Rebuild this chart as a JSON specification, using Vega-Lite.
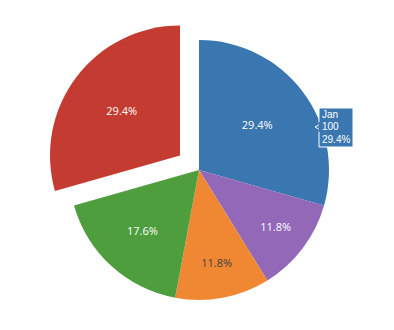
{
  "$schema": "https://vega.github.io/schema/vega-lite/v6.json",
  "width": 394,
  "height": 330,
  "autosize": {"type": "fit", "contains": "padding"},
  "padding": {"left": 4, "top": 10, "right": 0, "bottom": 0},
  "background": "white",
  "view": {"stroke": null},
  "data": {
    "values": [
      {"month": "Jan", "value": 100, "idx": 1},
      {"month": "May", "value": 40, "idx": 2},
      {"month": "Feb", "value": 40, "idx": 3},
      {"month": "Mar", "value": 60, "idx": 4},
      {"month": "Apr", "value": 100, "idx": 5}
    ]
  },
  "transform": [
    {"joinaggregate": [{"op": "sum", "field": "value", "as": "total"}]},
    {"calculate": "datum.value / datum.total", "as": "pct"}
  ],
  "layer": [
    {
      "mark": {"type": "arc", "outerRadius": 130},
      "encoding": {
        "theta": {"field": "value", "type": "quantitative", "stack": true},
        "order": {"field": "idx", "type": "quantitative"},
        "color": {"field": "month", "type": "nominal", "legend": null,
          "scale": {"domain": ["Jan", "May", "Feb", "Mar", "Apr"], "range": ["#3a77b0", "#9368b9", "#ef8733", "#4e9e3d", "#c43b31"]}},
        "fillOpacity": {"condition": {"test": "datum.month === 'Apr'", "value": 0}, "value": 1}
      }
    },
    {
      "mark": {"type": "arc", "outerRadius": 130, "xOffset": -19, "yOffset": -14.5},
      "encoding": {
        "theta": {"field": "value", "type": "quantitative", "stack": true},
        "order": {"field": "idx", "type": "quantitative"},
        "color": {"field": "month", "type": "nominal", "legend": null,
          "scale": {"domain": ["Jan", "May", "Feb", "Mar", "Apr"], "range": ["#3a77b0", "#9368b9", "#ef8733", "#4e9e3d", "#c43b31"]}},
        "fillOpacity": {"condition": {"test": "datum.month === 'Apr'", "value": 1}, "value": 0}
      }
    },
    {
      "mark": {"type": "text", "font": "Open Sans", "fontSize": 11, "radius": {"expr": "datum.value >= 100 ? 73 : datum.value >= 60 ? 84 : 96"}, "xOffset": {"expr": "datum.month === 'Apr' ? -19 : 0"}, "yOffset": {"expr": "datum.month === 'Apr' ? -14.5 : 0"}},
      "encoding": {
        "theta": {"field": "value", "type": "quantitative", "stack": true},
        "order": {"field": "idx", "type": "quantitative"},
        "text": {"field": "pct", "type": "quantitative", "format": ".1%"},
        "color": {"condition": {"test": "datum.month === 'Feb'", "value": "#444444"}, "value": "#ffffff"}
      }
    },
    {
      "transform": [{"filter": "datum.month === 'Jan'"}],
      "mark": {"type": "arc", "theta": 1.05, "theta2": 2.09, "outerRadius": 7, "xOffset": 116, "yOffset": -43, "color": "#3a77b0", "stroke": "#ffffff", "strokeWidth": 1},
      "encoding": {}
    },
    {
      "transform": [{"filter": "datum.month === 'Jan'"}],
      "mark": {"type": "rect", "x": {"expr": "width / 2 + 120"}, "x2": {"expr": "width / 2 + 154"}, "y": {"expr": "height / 2 - 62"}, "y2": {"expr": "height / 2 - 23"}, "color": "#3a77b0", "stroke": "#ffffff", "strokeWidth": 1},
      "encoding": {}
    },
    {
      "transform": [{"filter": "datum.month === 'Jan'"}],
      "mark": {"type": "rect", "x": {"expr": "width / 2 + 119.5"}, "x2": {"expr": "width / 2 + 121"}, "y": {"expr": "height / 2 - 48"}, "y2": {"expr": "height / 2 - 38"}, "color": "#3a77b0"},
      "encoding": {}
    },
    {
      "transform": [
        {"filter": "datum.month === 'Jan'"},
        {"calculate": "[datum.month, '' + datum.value, format(datum.pct, '.1%')]", "as": "hover"}
      ],
      "mark": {"type": "text", "x": {"expr": "width / 2 + 123"}, "y": {"expr": "height / 2 - 55.5"}, "align": "left", "baseline": "middle", "font": "Liberation Sans", "fontSize": 10, "lineHeight": 12.5, "color": "#ffffff"},
      "encoding": {"text": {"field": "hover"}}
    }
  ]
}
